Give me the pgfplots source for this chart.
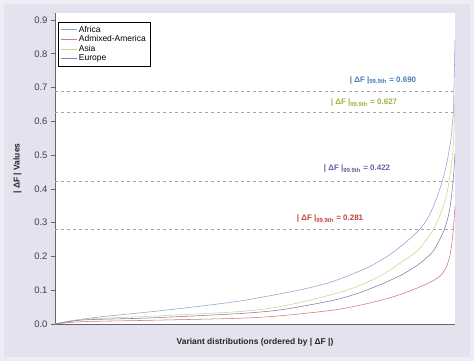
\documentclass[border=0pt]{standalone}
\usepackage{fontspec}
\setmainfont{Liberation Sans}
\usepackage{pgfplots}
\pgfplotsset{compat=1.18}
\definecolor{bgout}{HTML}{EEEDF5}
\definecolor{bgin}{HTML}{E4E2EF}
\definecolor{cafr}{HTML}{86A8CF}
\definecolor{camr}{HTML}{CF7A78}
\definecolor{casi}{HTML}{CAD68A}
\definecolor{ceur}{HTML}{8379AC}
\definecolor{tafr}{HTML}{4F7DBA}
\definecolor{tamr}{HTML}{C4443F}
\definecolor{tasi}{HTML}{A0B443}
\definecolor{teur}{HTML}{6E5FA6}
\begin{document}
\begin{tikzpicture}[x=1bp,y=1bp]
\fill[bgout] (-55,-37) rectangle (419,324);
\fill[bgin] (-51,-33) rectangle (415,320);
\useasboundingbox (-55,-37) rectangle (419,324);
\begin{axis}[
  scale only axis, width=400bp, height=311bp,
  xmin=0, xmax=1, ymin=0, ymax=0.9207,
  axis background/.style={fill=white},
  axis x line*=bottom, axis y line*=left,
  axis line style={draw=gray!80!black, line width=0.6pt},
  xtick=\empty,
  ytick={0,0.1,...,0.9},
  yticklabel style={/pgf/number format/.cd, fixed, fixed zerofill, precision=1},
  /pgf/number format/assume math mode=true,
  tick style={draw=gray!80!black, line width=0.6pt},
  tick align=outside, major tick length=4bp,
  ticklabel style={font=\fontsize{9.5}{11}\selectfont, text=black!75},
  xlabel={\bfseries Variant distributions (ordered by | ΔF |)},
  ylabel={\bfseries | ΔF | Values},
  label style={font=\fontsize{8.5}{10}\selectfont, text=black!85},
  xlabel style={yshift=-7bp},
  ylabel style={yshift=6bp},
  legend style={at={(axis description cs:0.008,0.972)}, anchor=north west,
    font=\fontsize{8.5}{10}\selectfont,
    row sep=-2pt, inner sep=2pt},
  legend cell align=left,
  every axis plot/.append style={line width=0.55pt, smooth, tension=0.45},
]
\addplot[color=cafr, legend image code/.code={\draw[cafr, line width=0.6pt] (0bp,0bp) -- (16bp,0bp);}] coordinates {
(0,0) (0.05,0.011) (0.1125,0.021) (0.2375,0.036) (0.35,0.051) (0.4625,0.068)
(0.57,0.091) (0.635,0.107) (0.695,0.126) (0.78,0.166) (0.83,0.2) (0.8625,0.228)
(0.8875,0.253) (0.9125,0.281) (0.935,0.32) (0.955,0.375) (0.97,0.43) (0.98,0.48)
(0.99,0.55) (0.996,0.64) (1.0,0.84)};
\addlegendentry{Africa}
\addplot[color=camr, legend image code/.code={\draw[camr, line width=0.6pt] (0bp,0bp) -- (16bp,0bp);}] coordinates {
(0,0) (0.07,0.007) (0.2375,0.011) (0.4625,0.017) (0.57,0.025) (0.695,0.041)
(0.76,0.055) (0.82,0.072) (0.8625,0.087) (0.8875,0.098) (0.9125,0.11) (0.945,0.128)
(0.965,0.145) (0.978,0.168) (0.9875,0.204) (0.995,0.27) (1.0,0.35)};
\addlegendentry{Admixed-America}
\addplot[color=casi, legend image code/.code={\draw[casi, line width=0.6pt] (0bp,0bp) -- (16bp,0bp);}] coordinates {
(0,0) (0.07,0.014) (0.2375,0.023) (0.4625,0.037) (0.57,0.053) (0.695,0.088)
(0.76,0.113) (0.82,0.147) (0.8625,0.18) (0.8875,0.2) (0.9125,0.225)
(0.945,0.278) (0.965,0.33) (0.98,0.388) (0.9925,0.485) (0.997,0.56) (1.0,0.67)};
\addlegendentry{Asia}
\addplot[color=ceur, legend image code/.code={\draw[ceur, line width=0.6pt] (0bp,0bp) -- (16bp,0bp);}] coordinates {
(0,0) (0.07,0.012) (0.2375,0.018) (0.4625,0.031) (0.57,0.043) (0.695,0.07)
(0.76,0.092) (0.82,0.12) (0.8625,0.143) (0.8875,0.16) (0.9125,0.18) (0.945,0.215)
(0.97,0.27) (0.98,0.305) (0.9875,0.345) (0.995,0.42) (1.0,0.505)};
\addlegendentry{Europe}
\addplot[gray!70, dash pattern=on 3bp off 3bp, forget plot, sharp plot] coordinates {(0,0.690) (1,0.690)};
\addplot[gray!70, dash pattern=on 3bp off 3bp, forget plot, sharp plot] coordinates {(0,0.627) (1,0.627)};
\addplot[gray!70, dash pattern=on 3bp off 3bp, forget plot, sharp plot] coordinates {(0,0.422) (1,0.422)};
\addplot[gray!70, dash pattern=on 3bp off 3bp, forget plot, sharp plot] coordinates {(0,0.281) (1,0.281)};
\node[text=tafr, font=\bfseries\fontsize{8}{9}\selectfont] at (axis cs:0.82,0.722) {| ΔF |\textsubscript{99.9th} = 0.690};
\node[text=tasi, font=\bfseries\fontsize{8}{9}\selectfont] at (axis cs:0.7725,0.655) {| ΔF |\textsubscript{99.9th} = 0.627};
\node[text=teur, font=\bfseries\fontsize{8}{9}\selectfont] at (axis cs:0.755,0.459) {| ΔF |\textsubscript{99.9th} = 0.422};
\node[text=tamr, font=\bfseries\fontsize{8}{9}\selectfont] at (axis cs:0.6875,0.311) {| ΔF |\textsubscript{99.9th} = 0.281};
\end{axis}
\end{tikzpicture}
\end{document}
